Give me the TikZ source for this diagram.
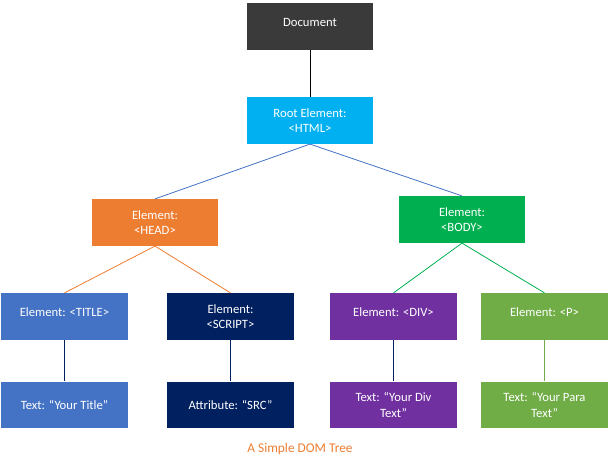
\documentclass[tikz,border=0pt]{standalone}
\usepackage{fontspec}
\setmainfont{Carlito}
\begin{document}
\begin{tikzpicture}[x=0.75pt,y=-0.75pt,
  box/.style={draw=none, minimum width=95pt, minimum height=35pt, text=white,
    align=center, font=\fontsize{9.5}{11.5}\selectfont, inner sep=1pt},
  link/.style={line width=0.6pt}]
\useasboundingbox (0,0) rectangle (612,459);
\definecolor{cdoc}{HTML}{3A3A3A}
\definecolor{croot}{HTML}{00B0F0}
\definecolor{chead}{HTML}{ED7D31}
\definecolor{cbody}{HTML}{00B050}
\definecolor{ctitle}{HTML}{4472C4}
\definecolor{cscript}{HTML}{002060}
\definecolor{cdiv}{HTML}{7030A0}
\definecolor{cp}{HTML}{70AD47}
\node[box, fill=cdoc] (doc) at (310,26.5) {\raisebox{6pt}{Document}};
\node[box, fill=croot] (root) at (310,120.5) {Root Element:\\<HTML>};
\node[box, fill=chead] (head) at (155,222.5) {Element:\\<HEAD>};
\node[box, fill=cbody] (body) at (462,219.5) {Element:\\<BODY>};
\node[box, fill=ctitle] (title) at (64.5,316.5) {\raisebox{6pt}{Element: <TITLE>}};
\node[box, fill=cscript] (script) at (230.5,316.5) {Element:\\<SCRIPT>};
\node[box, fill=cdiv] (div) at (393.5,316.5) {\raisebox{6pt}{Element: <DIV>}};
\node[box, fill=cp] (p) at (544.5,316.5) {\raisebox{6pt}{Element: <P>}};
\node[box, fill=ctitle] (ttext) at (64.5,405) {Text: “Your Title”};
\node[box, fill=cscript] (stext) at (230.5,405) {Attribute: “SRC”};
\node[box, fill=cdiv] (dtext) at (393.5,405) {Text: “Your Div\\Text”};
\node[box, fill=cp] (ptext) at (544.5,405) {Text: “Your Para\\Text”};
\node[text=chead, font=\fontsize{10}{12}\selectfont] (cap) at (300,449) {A Simple DOM Tree};
\draw[link, black] (doc) -- (root);
\draw[link, ctitle] (root.south) -- (head.north);
\draw[link, ctitle] (root.south) -- (body.north);
\draw[link, chead] (head.south) -- (title.north);
\draw[link, chead] (head.south) -- (script.north);
\draw[link, cbody] (body.south) -- (div.north);
\draw[link, cbody] (body.south) -- (p.north);
\draw[link, cscript] (title) -- (ttext);
\draw[link, cscript] (script) -- (stext);
\draw[link, cscript] (div) -- (dtext);
\draw[link, cp] (p) -- (ptext);
\end{tikzpicture}
\end{document}
